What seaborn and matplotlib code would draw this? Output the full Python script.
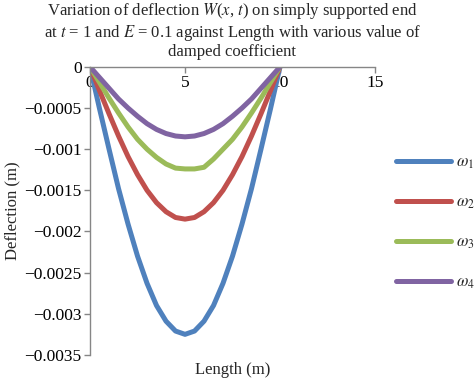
import matplotlib
matplotlib.use('Agg')
import matplotlib.pyplot as plt
import seaborn as sns
import numpy as np
import pandas as pd
from matplotlib.ticker import FuncFormatter, MultipleLocator

# values (x step 0.5)
length = [0, 0.5, 1, 1.5, 2, 2.5, 3, 3.5, 4, 4.5, 5,
          5.5, 6, 6.5, 7, 7.5, 8, 8.5, 9, 9.5, 10]
w1 = [0, -0.00051, -0.00100, -0.00148, -0.00191, -0.00230, -0.00263, -0.00290, -0.00309, -0.00321, -0.00325,
      -0.00321, -0.00309, -0.00290, -0.00263, -0.00230, -0.00191, -0.00148, -0.00100, -0.00051, 0]
w2 = [0, -0.00029, -0.00057, -0.00084, -0.00109, -0.00131, -0.00150, -0.00165, -0.00176, -0.00183, -0.00185,
      -0.00183, -0.00176, -0.00165, -0.00150, -0.00131, -0.00109, -0.00084, -0.00057, -0.00029, 0]
w3 = [0, -0.00019, -0.00038, -0.00056, -0.00073, -0.00088, -0.00100, -0.00110, -0.00118, -0.00123, -0.00124,
      -0.00124, -0.00122, -0.00112, -0.00100, -0.00088, -0.00073, -0.00056, -0.00038, -0.00019, 0]
w4 = [0, -0.00013, -0.00026, -0.00039, -0.00050, -0.00060, -0.00069, -0.00076, -0.00081, -0.00084, -0.00085,
      -0.00084, -0.00081, -0.00076, -0.00069, -0.00060, -0.00050, -0.00039, -0.00026, -0.00013, 0]
series_names = [r'$\omega_1$', r'$\omega_2$', r'$\omega_3$', r'$\omega_4$']
colors = ['#4F81BD', '#C0504D', '#9BBB59', '#8064A2']

rows = []
for name, vals in zip(series_names, [w1, w2, w3, w4]):
    for xv, yv in zip(length, vals):
        rows.append({'Length': xv, 'Deflection': yv, 'series': name})
df = pd.DataFrame(rows)

sns.set_style('white')
plt.rcParams['font.family'] = ['Liberation Serif', 'DejaVu Serif']
plt.rcParams['mathtext.fontset'] = 'stix'

fig = plt.figure(figsize=(4.74, 3.8), dpi=100)
ax = fig.add_axes([0.190, 0.066, 0.601, 0.758])

sns.lineplot(data=df, x='Length', y='Deflection', hue='series', palette=colors,
             linewidth=3.6, ax=ax, sort=False, estimator=None)
for ln in ax.lines:
    ln.set_solid_capstyle('round')
    ln.set_solid_joinstyle('round')

ax.set_xlim(0, 15)
ax.set_ylim(-0.0035, 0)
ax.xaxis.set_major_locator(MultipleLocator(5))
ax.yaxis.set_major_locator(MultipleLocator(0.0005))
ax.yaxis.set_major_formatter(FuncFormatter(lambda v, p: ('%g' % round(v, 6)).replace('-', '\u2212')))

gray = '#868686'
ax.spines['bottom'].set_position(('data', 0))
ax.spines['right'].set_visible(False)
ax.spines['top'].set_visible(False)
for s in ['left', 'bottom']:
    ax.spines[s].set_color(gray)
    ax.spines[s].set_linewidth(1.0)
ax.tick_params(axis='both', which='both', direction='out', length=4, width=1, color=gray,
               labelsize=12.5, labelcolor='black')
ax.tick_params(axis='x', bottom=True, pad=2)
ax.tick_params(axis='y', left=True, pad=2)

ax.set_xlabel('Length (m)', fontsize=12)
ax.xaxis.set_label_coords(0.5, -0.025)
ax.set_ylabel('Deflection (m)', fontsize=12, labelpad=3)

ax.set_title('Variation of deflection $W$($x$, $t$) on simply supported end\n'
             'at $t$ = 1 and $E$ = 0.1 against Length with various value of\n'
             'damped coefficient', fontsize=12, pad=8, linespacing=1.1)

leg = ax.legend(loc='upper left', bbox_to_anchor=(0.822, 0.61), bbox_transform=fig.transFigure,
                frameon=False, fontsize=12, handlelength=3.3, handletextpad=0.3,
                labelspacing=1.42, borderaxespad=0)
for h in leg.get_lines():
    h.set_linewidth(3.6)
    h.set_solid_capstyle('round')

fig.savefig('out.png', dpi=100)
